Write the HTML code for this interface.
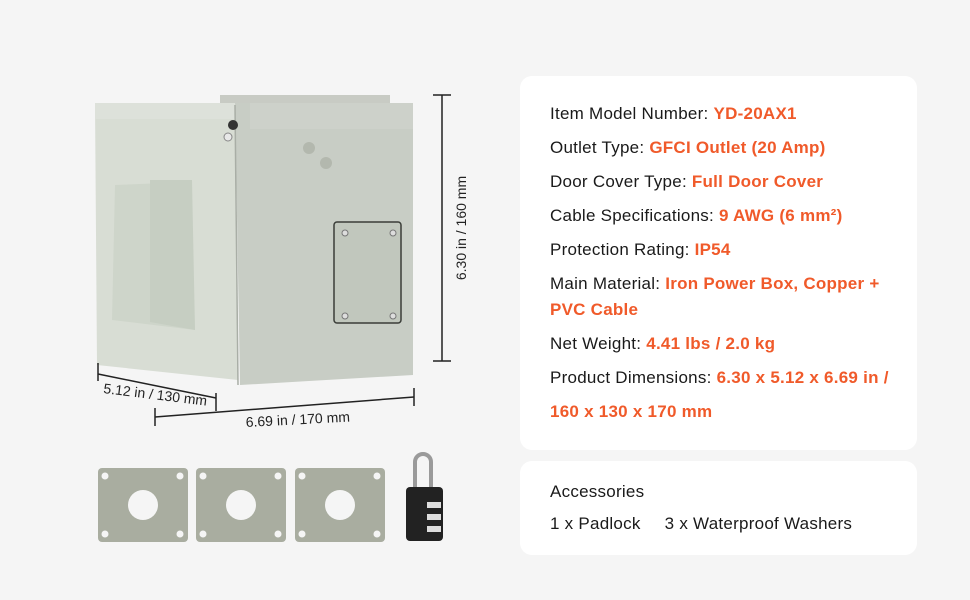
<!DOCTYPE html>
<html><head><meta charset="utf-8"><style>
html,body{margin:0;padding:0;}
body{width:970px;height:600px;background:#f5f5f5;position:relative;overflow:hidden;font-family:"Liberation Sans",sans-serif;}
.p{position:absolute;background:#fff;border-radius:12px;left:520px;width:397px;}
.l{position:absolute;left:550px;font-size:17px;color:#1a1a1a;white-space:nowrap;line-height:20px;letter-spacing:0.25px;}
.o{color:#f05a2a;font-weight:bold;}
svg{position:absolute;left:0;top:0;}
</style></head><body>
<div class="p" style="top:76px;height:374px"></div>
<div class="p" style="top:461px;height:94px"></div>
<div class="l" style="top:104px">Item Model Number: <span class="o">YD-20AX1</span></div>
<div class="l" style="top:138px">Outlet Type: <span class="o">GFCI Outlet (20 Amp)</span></div>
<div class="l" style="top:172px">Door Cover Type: <span class="o">Full Door Cover</span></div>
<div class="l" style="top:206px">Cable Specifications: <span class="o">9 AWG (6 mm²)</span></div>
<div class="l" style="top:240px">Protection Rating: <span class="o">IP54</span></div>
<div class="l" style="top:274px">Main Material: <span class="o">Iron Power Box, Copper +</span></div>
<div class="l" style="top:300px"><span class="o">PVC Cable</span></div>
<div class="l" style="top:334px">Net Weight: <span class="o">4.41 lbs / 2.0 kg</span></div>
<div class="l" style="top:368px">Product Dimensions: <span class="o">6.30 x 5.12 x 6.69 in /</span></div>
<div class="l" style="top:402px"><span class="o">160 x 130 x 170 mm</span></div>
<div class="l" style="top:482px">Accessories</div>
<div class="l" style="top:514px">1 x Padlock<span style="display:inline-block;width:24px"></span>3 x Waterproof Washers</div>
<svg width="970" height="600" viewBox="0 0 970 600">
<rect x="220" y="95" width="170" height="8" fill="#c8cbc4"/>
<polygon points="95,103 235,103 238,380 97,365" fill="#d8ddd4"/>
<rect x="95" y="103" width="140" height="16" fill="#dde1da"/>
<polygon points="115,185 190,182 195,330 112,320" fill="#ced5ca"/>
<polygon points="150,180 192,180 195,330 150,322" fill="#c6cec2"/>
<polygon points="235,103 413,103 413,375 240,385" fill="#c8cdc5"/>
<rect x="250" y="103" width="163" height="26" fill="#cdd1ca"/>
<line x1="235" y1="105" x2="238" y2="385" stroke="#a9aea6" stroke-width="1.5"/>
<circle cx="233" cy="125" r="5" fill="#333"/>
<circle cx="228" cy="137" r="4" fill="#e8e8e8" stroke="#888"/>
<circle cx="309" cy="148" r="6" fill="#b3b8ae"/>
<circle cx="326" cy="163" r="6" fill="#b3b8ae"/>
<rect x="334" y="222" width="67" height="101" rx="3" fill="#c1c7bd" stroke="#3a3d38" stroke-width="1.5"/>
<circle cx="345" cy="233" r="3" fill="#ddd" stroke="#777"/>
<circle cx="393" cy="233" r="3" fill="#ddd" stroke="#777"/>
<circle cx="345" cy="316" r="3" fill="#ddd" stroke="#777"/>
<circle cx="393" cy="316" r="3" fill="#ddd" stroke="#777"/>
<g stroke="#222" stroke-width="1.5" fill="none">
<line x1="442" y1="95" x2="442" y2="361"/><line x1="433" y1="95" x2="451" y2="95"/><line x1="433" y1="361" x2="451" y2="361"/>
<line x1="98" y1="374" x2="216" y2="398"/><line x1="98" y1="363" x2="98" y2="381"/><line x1="216" y1="393" x2="216" y2="411"/>
<line x1="155" y1="417" x2="414" y2="397"/><line x1="155" y1="408" x2="155" y2="426"/><line x1="414" y1="388" x2="414" y2="406"/>
</g>
<text x="466" y="228" font-size="14" fill="#222" font-family="Liberation Sans" text-anchor="middle" transform="rotate(-90 466 228)">6.30 in / 160 mm</text>
<text x="103" y="393" font-size="14" fill="#222" font-family="Liberation Sans" transform="rotate(7 103 393)">5.12 in / 130 mm</text>
<text x="246" y="427" font-size="14" fill="#222" font-family="Liberation Sans" transform="rotate(-3 246 427)">6.69 in / 170 mm</text>
<g fill="#a9ada0">
<rect x="98" y="468" width="90" height="74" rx="4"/><rect x="196" y="468" width="90" height="74" rx="4"/><rect x="295" y="468" width="90" height="74" rx="4"/>
</g>
<g fill="#f5f5f5">
<circle cx="143" cy="505" r="15"/><circle cx="241" cy="505" r="15"/><circle cx="340" cy="505" r="15"/>
<circle cx="105" cy="476" r="3.5"/><circle cx="180" cy="476" r="3.5"/><circle cx="105" cy="534" r="3.5"/><circle cx="180" cy="534" r="3.5"/>
<circle cx="203" cy="476" r="3.5"/><circle cx="278" cy="476" r="3.5"/><circle cx="203" cy="534" r="3.5"/><circle cx="278" cy="534" r="3.5"/>
<circle cx="302" cy="476" r="3.5"/><circle cx="377" cy="476" r="3.5"/><circle cx="302" cy="534" r="3.5"/><circle cx="377" cy="534" r="3.5"/>
</g>
<path d="M415,490 V462 a8,8 0 0 1 16,0 V490" stroke="#9a9a9a" stroke-width="4" fill="none"/>
<rect x="406" y="487" width="37" height="54" rx="4" fill="#222"/>
<g fill="#ddd"><rect x="427" y="502" width="14" height="6"/><rect x="427" y="514" width="14" height="6"/><rect x="427" y="526" width="14" height="6"/></g>
</svg>
</body></html>
